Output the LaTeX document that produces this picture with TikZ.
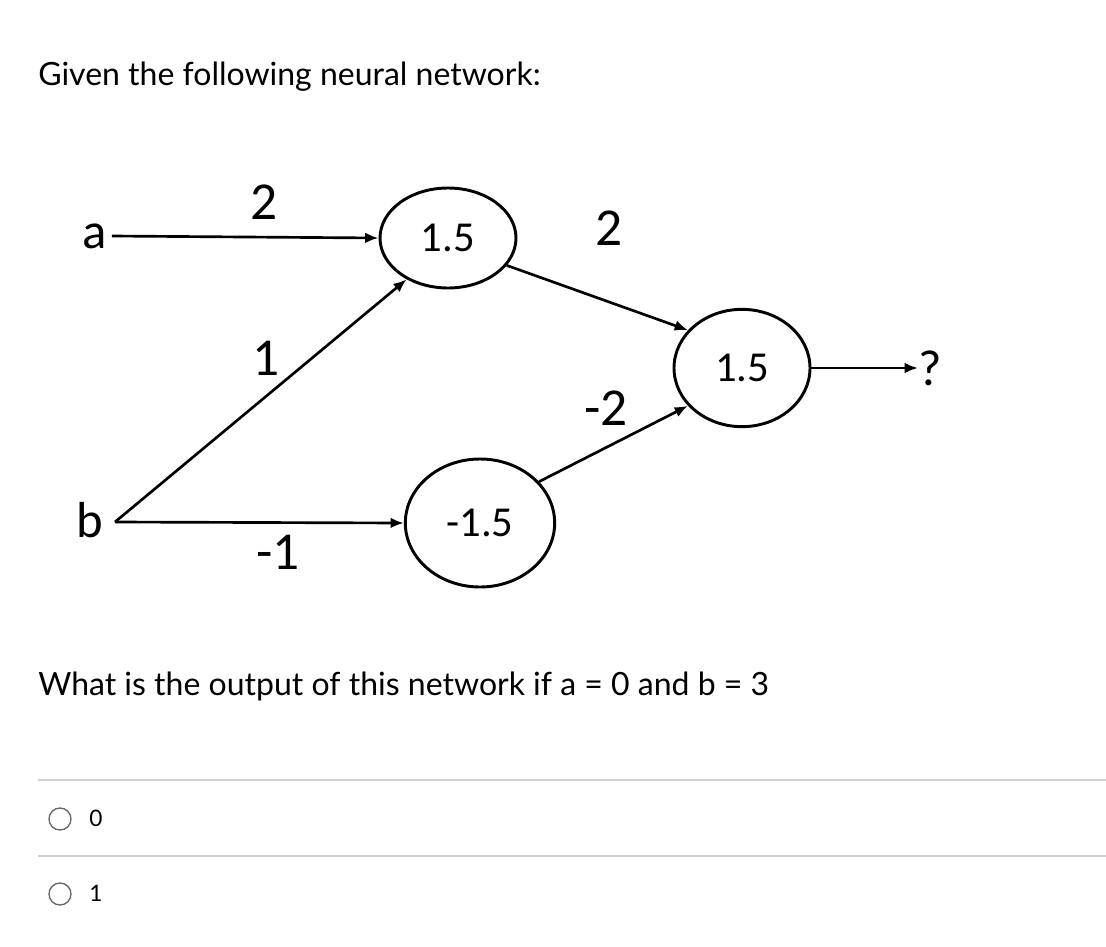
\documentclass[tikz,border=0pt]{standalone}
\usepackage{fontspec}
\setmainfont{Lato}
\newfontfamily\calibrifont{Carlito}
\usetikzlibrary{shapes.geometric,arrows.meta}
\begin{document}
\begin{tikzpicture}[x=0.75pt,y=-0.75pt,
  neuron/.style={draw,ellipse,line width=2.2pt,inner sep=0},
  conn/.style={line width=2pt,-{Latex[length=10pt,width=8pt]}},
  lbl/.style={font=\calibrifont\fontsize{40}{44}\selectfont},
  inp/.style={font=\calibrifont\fontsize{38}{42}\selectfont},
  num/.style={font=\calibrifont\fontsize{32}{36}\selectfont},
  txt/.style={font=\fontsize{24}{28}\selectfont,anchor=base west,inner sep=0},
  sep/.style={draw=black!18,line width=1pt},
  radio/.style={draw=black!60,line width=1pt}]
\useasboundingbox (0,0) rectangle (1106,946);
\node[txt] (t1) at (38,85) {Given the following neural network:};
\node[inp] (a) at (95,236) {a};
\node[inp] (b) at (90,520) {b};
\node[neuron,minimum width=102pt,minimum height=75pt] (n1) at (448,238) {};
\node[num] at (n1) {1.5};
\node[neuron,minimum width=102pt,minimum height=88pt] (n2) at (742,368) {};
\node[num] at (n2) {1.5};
\node[neuron,minimum width=112pt,minimum height=96pt] (n3) at (480,523) {};
\node[num] at (n3) {-1.5};
\coordinate (bj) at (115,522);
\draw[conn] (a.east) -- (n1.west);
\draw[conn] (bj) -- (n1.225);
\draw[conn] (bj) -- (n3.west);
\draw[conn] (n1.335) -- (n2.145);
\draw[conn] (n3.35) -- (n2.215);
\coordinate (q) at (918,368);
\draw[conn] (n2.east) -- (q);
\node[inp,anchor=west,inner sep=0] (qm) at (q) {?};
\node[lbl] (l1) at (264,202) {2};
\node[lbl] (l2) at (266,358) {1};
\node[lbl] (l3) at (278,552) {-1};
\node[lbl] (l4) at (609,228) {2};
\node[lbl] (l5) at (606,408) {-2};
\node[txt] (t2) at (38,695) {What is the output of this network if a = 0 and b = 3};
\draw[sep] (38,780) -- (1106,780);
\draw[sep] (38,856) -- (1106,856);
\draw[radio] (60,819) circle (11);
\node[txt,font=\fontsize{17}{20}\selectfont] at (89,826) {0};
\draw[radio] (60,894) circle (11);
\node[txt,font=\fontsize{17}{20}\selectfont] at (89,901) {1};
\end{tikzpicture}
\end{document}
